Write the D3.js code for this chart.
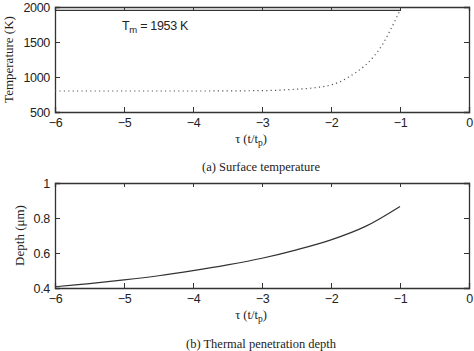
<!DOCTYPE html>
<html lang="en">
<head>
<meta charset="UTF-8">
<title>Surface temperature and thermal penetration depth</title>
<script src="https://cdnjs.cloudflare.com/ajax/libs/d3/7.8.5/d3.min.js"></script>
<style>
    * { margin: 0; padding: 0; }
    body { background: #fff; width: 474px; height: 351px; overflow: hidden; }
    .tick text { font-family: "Liberation Sans", Arial, sans-serif; font-size: 12.5px; fill: #222; letter-spacing: -0.3px; }
    .serif { font-family: "Liberation Serif", "Times New Roman", serif; fill: #222; }
</style>
</head>
<body>
<svg id="chart" width="474" height="351"></svg>
<script>
    // data
    const xTicks = [-6, -5, -4, -3, -2, -1, 0];
    const tempTicks = [500, 1000, 1500, 2000];
    const depthTicks = [0.4, 0.6, 0.8, 1];

    const meltTemp = 1953;
    const meltTau = [-6, -1];

    const tempTau = [-6, -5, -4, -3, -2.75, -2.5, -2.25, -2, -1.875, -1.75, -1.625, -1.5, -1.375, -1.25, -1.125, -1];
    const tempVal = [800, 800, 800, 805, 812, 825, 845, 887, 930, 995, 1075, 1170, 1300, 1470, 1700, 1953];

    const depthTau = [-6, -5.5, -5, -4.5, -4, -3.5, -3, -2.5, -2, -1.5, -1];
    const depthVal = [0.407, 0.425, 0.446, 0.47, 0.499, 0.532, 0.570, 0.618, 0.675, 0.752, 0.866];

    const svg = d3.select("#chart");
    const left = 55, right = 469;
    const ink = "#333";

    function panel(top, bottom, yDomain, yTicks, yFmt, yTitle, yTitleX, caption, xTitleY, captionY) {
        const x = d3.scaleLinear().domain([-6, 0]).range([left, right]);
        const y = d3.scaleLinear().domain(yDomain).range([bottom, top]);
        const g = svg.append("g");

        // axes with inward ticks on all four sides
        const axB = g.append("g").attr("transform", `translate(0,${bottom})`)
            .call(d3.axisBottom(x).tickValues(xTicks).tickSize(-5).tickPadding(9).tickFormat(d => d3.format("")(d).replace("-", "\u2212")));
        const axT = g.append("g").attr("transform", `translate(0,${top})`)
            .call(d3.axisTop(x).tickValues(xTicks).tickSize(-4).tickFormat(""));
        const axL = g.append("g").attr("transform", `translate(${left},0)`)
            .call(d3.axisLeft(y).tickValues(yTicks).tickSize(-5).tickPadding(5).tickFormat(yFmt));
        const axR = g.append("g").attr("transform", `translate(${right},0)`)
            .call(d3.axisRight(y).tickValues(yTicks).tickSize(-5).tickFormat(""));
        [axB, axT, axL, axR].forEach(a => {
            a.select(".domain").attr("stroke", ink).attr("stroke-width", 1.3);
            a.selectAll(".tick line").attr("stroke", ink).attr("stroke-width", 1);
        });
        axB.selectAll(".tick text").attr("dy", "0.5em");

        // y title
        g.append("text").attr("class", "serif")
            .attr("transform", `translate(${yTitleX},${(top + bottom) / 2}) rotate(-90)`)
            .attr("text-anchor", "middle").attr("font-size", 13).text(yTitle);

        // x title tau (t/tp)
        const xt = g.append("text").attr("class", "serif")
            .attr("x", 251).attr("y", xTitleY).attr("text-anchor", "middle").attr("font-size", 12.5);
        xt.append("tspan").text("\u03c4 (t/t");
        xt.append("tspan").attr("dy", 3).attr("font-size", 9.5).text("p");
        xt.append("tspan").attr("dy", -3).text(")");

        g.append("text").attr("class", "serif")
            .attr("x", 261).attr("y", captionY).attr("text-anchor", "middle").attr("font-size", 12.5).text(caption);

        return { x, y, g };
    }

    // (a) surface temperature
    const a = panel(7, 112, [500, 2000], tempTicks, d3.format(""), "Temperature (K)", 13,
        "(a) Surface temperature", 143, 171);

    a.g.append("path")
        .datum(meltTau)
        .attr("fill", "none").attr("stroke", ink).attr("stroke-width", 1.3)
        .attr("d", d3.line().x(d => a.x(d)).y(() => a.y(meltTemp)));

    a.g.append("path")
        .datum(tempTau.map((t, i) => [t, tempVal[i]]))
        .attr("fill", "none").attr("stroke", "#555").attr("stroke-width", 1.2)
        .attr("stroke-dasharray", "1.2,3.2")
        .attr("d", d3.line().curve(d3.curveMonotoneX).x(d => a.x(d[0])).y(d => a.y(d[1])));

    const tm = a.g.append("text").attr("x", 122).attr("y", 30)
        .attr("font-family", "Liberation Sans, Arial, sans-serif").attr("font-size", 12.5)
        .attr("fill", "#222").attr("letter-spacing", "-0.3px");
    tm.append("tspan").text("T");
    tm.append("tspan").attr("dy", 3).attr("font-size", 9.5).text("m");
    tm.append("tspan").attr("dy", -3).text(" = 1953 K");

    // (b) thermal penetration depth
    const b = panel(183, 288, [0.4, 1], depthTicks, d => d3.format("")(+d.toFixed(1)), "Depth (\u03bcm)", 24,
        "(b) Thermal penetration depth", 319, 348);

    b.g.append("path")
        .datum(depthTau.map((t, i) => [t, depthVal[i]]))
        .attr("fill", "none").attr("stroke", ink).attr("stroke-width", 1.2)
        .attr("d", d3.line().curve(d3.curveCatmullRom).x(d => b.x(d[0])).y(d => b.y(d[1])));
</script>
</body>
</html>
